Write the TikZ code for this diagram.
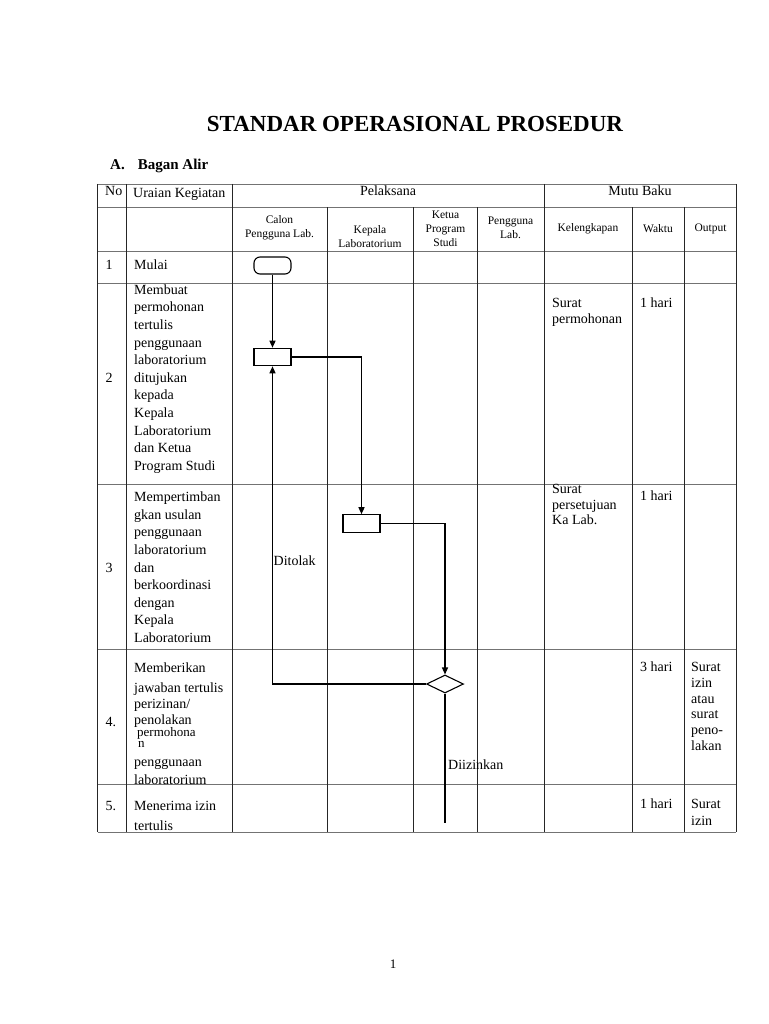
\documentclass[tikz,border=0pt]{standalone}
\usepackage{fontspec}
\setmainfont{Liberation Serif}
\usetikzlibrary{arrows.meta,shapes.geometric}
\begin{document}
\begin{tikzpicture}[x=1pt,y=-1pt,
  hline/.style={draw=black!55, line width=0.9pt},
  vline/.style={draw=black!85, line width=0.9pt},
  flow/.style={draw=black, line width=1.3pt},
  arr/.style={flow, -{Triangle[length=7pt,width=6pt]}},
  term/.style={draw, line width=1.1pt, rounded corners=6pt, minimum width=37pt, minimum height=17pt, inner sep=0pt},
  proc/.style={draw, line width=1.1pt, minimum width=37pt, minimum height=17.5pt, inner sep=0pt},
  dec/.style={draw, line width=1.1pt, diamond, minimum width=37pt, minimum height=18pt, inner sep=0pt},
  cell/.style={inner sep=0pt, anchor=north west, align=left, font=\fontsize{14}{17.6}\selectfont},
  mcell/.style={inner sep=0pt, anchor=north west, align=left, font=\fontsize{14}{15.8}\selectfont},
  txt/.style={inner sep=0pt, anchor=west, font=\fontsize{14}{16}\selectfont},
  hdr/.style={inner sep=0pt, align=center, font=\fontsize{11.5}{14}\selectfont}
]
\useasboundingbox (0,0) rectangle (768,1024);

% title
\node[inner sep=0pt, anchor=base, font=\bfseries\fontsize{23}{26}\selectfont] (title) at (415,131.5) {STANDAR OPERASIONAL PROSEDUR};
\node[inner sep=0pt, anchor=base west, font=\bfseries\fontsize{15}{18}\selectfont] (secA) at (110,170) {A.};
\node[inner sep=0pt, anchor=base west, font=\bfseries\fontsize{15}{18}\selectfont] (secB) at (137.7,170) {Bagan Alir};

% horizontal grid lines
\foreach \yy in {184,207.5,251,283.5,484,649,784,832}
  \draw[hline] (97.5,\yy) -- (736,\yy);
% vertical grid lines
\foreach \xx in {97.5,126.5,232,544.5,736}
  \draw[vline] (\xx,184) -- (\xx,832);
\foreach \xx in {327,413.5,477,632,684.5}
  \draw[vline] (\xx,207.5) -- (\xx,832);

% header
\node[txt] (hNo) at (105,190.5) {No};
\node[txt] (hUr) at (133,194.5) {Uraian Kegiatan};
\node[txt, anchor=center] (hPel) at (388,191) {Pelaksana};
\node[txt, anchor=center] (hMutu) at (640,191) {Mutu Baku};
\node[hdr] (hCalon) at (279.5,228) {Calon\\Pengguna Lab.};
\node[hdr] (hKepala) at (370,236.5) {Kepala\\Laboratorium};
\node[hdr] (hKetua) at (445.5,228.5) {Ketua\\Program\\Studi};
\node[hdr] (hPeng) at (510.5,228) {Pengguna\\Lab.};
\node[hdr] (hKel) at (588,228.5) {Kelengkapan};
\node[hdr] (hWak) at (658,228.5) {Waktu};
\node[hdr] (hOut) at (710.5,228.5) {Output};

% numbers
\node[txt] (n1) at (105.5,265) {1};
\node[txt] (n2) at (105.5,378) {2};
\node[txt] (n3) at (105.5,568) {3};
\node[txt] (n4) at (105.5,722) {4.};
\node[txt] (n5) at (105.5,806) {5.};

% activities
\node[txt] (u1) at (134,265) {Mulai};
\node[cell] (u2) at (134,284.3) {Membuat\\permohonan\\tertulis\\penggunaan\\laboratorium\\ditujukan\\kepada\\Kepala\\Laboratorium\\dan Ketua\\Program Studi};
\node[cell] (u3) at (134,491.7) {Mempertimban\\gkan usulan\\penggunaan\\laboratorium\\dan\\berkoordinasi\\dengan\\Kepala\\Laboratorium};
\node[inner sep=0pt, anchor=north west, align=left, font=\fontsize{14}{16}\selectfont] (u4) at (134,662.5)
  {Memberikan\\[4pt]jawaban tertulis\\perizinan/\\penolakan\\[-4pt]\hspace*{3pt}{\fontsize{13}{13}\selectfont permohona}\\[-5pt]\hspace*{4pt}{\fontsize{13}{13}\selectfont n}\\[3pt]penggunaan\\[2pt]laboratorium};
\node[inner sep=0pt, anchor=north west, align=left, font=\fontsize{14}{20}\selectfont] (u5) at (134,801.5) {Menerima izin\\tertulis};

% kelengkapan
\node[inner sep=0pt, anchor=north west, align=left, font=\fontsize{14}{16.5}\selectfont] (k2) at (552,298) {Surat\\permohonan};
\node[inner sep=0pt, anchor=north west, align=left, font=\fontsize{14}{15.5}\selectfont] (k3) at (552,484.5) {Surat\\persetujuan\\Ka Lab.};

% waktu
\node[txt] (w2) at (640,303) {1 hari};
\node[txt] (w3) at (640,496) {1 hari};
\node[txt] (w4) at (640,667) {3 hari};
\node[txt] (w5) at (640,804) {1 hari};

% output
\node[mcell] (o4) at (691,662) {Surat\\izin\\atau\\surat\\peno-\\lakan};
\node[inner sep=0pt, anchor=north west, align=left, font=\fontsize{14}{17}\selectfont] (o5) at (691,799) {Surat\\izin};

% flowchart
\node[term] (start) at (272.5,265.5) {};
\node[proc] (p1) at (272.5,357) {};
\node[proc] (p2) at (361.5,523.5) {};
\node[dec] (d1) at (445,684) {};
\coordinate (fin) at (445,823);

\draw[arr] (start.south) -- (p1.north);
\draw[arr] (p1.east) -| (p2.north);
\draw[arr] (p2.east) -| (d1.north);
\draw[arr] (d1.west) -| (p1.south);
\draw[flow] (d1.south) -- (fin);

\node[txt] (ditolak) at (273.5,561) {Ditolak};
\node[txt] (diizinkan) at (448,765) {Diizinkan};

% page number
\node[txt, anchor=center, font=\fontsize{13}{15}\selectfont] (page) at (393,964) {1};
\end{tikzpicture}
\end{document}
